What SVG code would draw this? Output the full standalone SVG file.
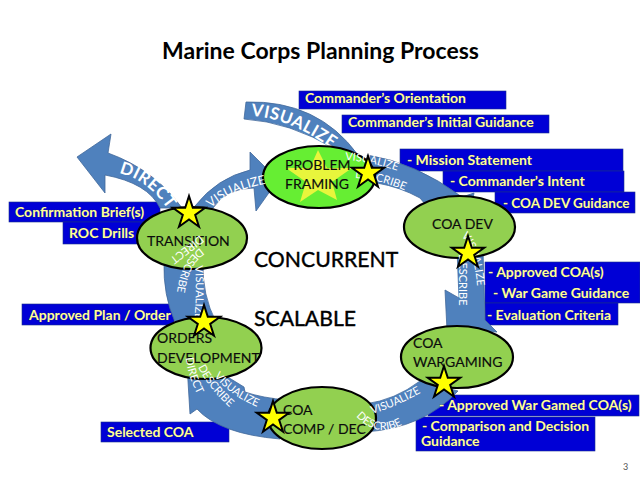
<svg xmlns="http://www.w3.org/2000/svg" width="640" height="480" viewBox="0 0 640 480">
<style>
text{font-family:"Lato","Liberation Sans",sans-serif}
.box{fill:#0000d6;stroke:#1a2f8a;stroke-width:.6}
.bl{fill:#ffff99;font-weight:700;font-size:14px;stroke:#333;stroke-width:.3;paint-order:stroke}
.arrow{fill:#4f81bd;stroke:#41689a;stroke-width:.8}
.node{fill:#92d050;stroke:#000;stroke-width:2.2}
.star{fill:#ffff00;stroke:#000;stroke-width:2}
.lab{fill:#0c0c0c;font-size:14px;stroke:#0c0c0c;stroke-width:.15}
.w{fill:#fff;font-size:11px}
.wb{fill:#fff;font-weight:700;font-size:17px;letter-spacing:.5px}
.big{fill:#000;font-size:21.200px;stroke:#000;stroke-width:.4}
</style>
<defs>
<polygon id="s" class="star" points="0,-17 3.800,-5.250 16.200,-5.250 6.200,2 10,13.750 0,6.500 -10,13.750 -6.200,2 -16.200,-5.250 -3.800,-5.250"/>
<path id="pVis" d="M251,116 Q295,118 347,160"/>
<path id="pDir" d="M119,173 Q152,180 176,222"/>
<path id="pV1" d="M211,208 Q230,190 270,183"/>
<path id="pV2" d="M345,160 Q380,162 420,180"/>
<path id="pD2" d="M355,178 Q390,180 432,204"/>
<path id="pV3" d="M372,414 Q396,407 426,390"/>
<path id="pD3" d="M356,416 Q378,440 405,423 L420,414"/>
<path id="pV4" d="M214,376 Q232,398 265,410"/>
<path id="pD4" d="M198,367 Q210,392 240,416"/>
<path id="pD5" d="M186,358 Q187,375 200,400"/>
<path id="pV5" d="M195,266 Q197,290 194,325"/>
<path id="pD6" d="M200,248 Q178,262 176,304"/>
<path id="pV6" d="M461,236 Q476,250 478,300"/>
<path id="pD7" d="M459,254 L459,320"/>
<path id="pD8" d="M200,235 L160,266"/>
</defs>
<text x="320.500" y="59" text-anchor="middle" font-size="23" font-weight="700" fill="#000">Marine Corps Planning Process</text>

<g id="boxes">
<rect class="box" x="299" y="91" width="207" height="18"/>
<rect class="box" x="342" y="115" width="207" height="18"/>
<rect class="box" x="400" y="149" width="223" height="22"/>
<rect class="box" x="443" y="171" width="181" height="21"/>
<rect class="box" x="495" y="192" width="140" height="21"/>
<rect class="box" x="485" y="262" width="155" height="41"/>
<rect class="box" x="485" y="303" width="133" height="22"/>
<rect class="box" x="428" y="395" width="211" height="21"/>
<rect class="box" x="416" y="417" width="179" height="34"/>
<rect class="box" x="9" y="202" width="151" height="20"/>
<rect class="box" x="63" y="222" width="80" height="22"/>
<rect class="box" x="22" y="304" width="152" height="21"/>
<rect class="box" x="101" y="422" width="128" height="20"/>
</g>

<g id="connectors">
<path class="arrow" d="M246,102 Q318,100 358,155 L335,149 Q290,122 244,119 Z"/>
<path class="arrow" d="M367,155 Q415,162 462,197 L474,193 L470,215 L430,210 L420,198 Q400,187 377,183 Z"/>
<path class="arrow" d="M77,157 L111,134 L108,153 Q155,170 182,208 L160,208 Q148,183 105,175 L105,193 Z"/>
<path class="arrow" d="M195,206 Q217,178 250,170 L250,152 L278,180 L256,211 L254,188 Q226,188 213,208 Z"/>
<path class="arrow" d="M164,262 L203,262 Q202,295 216,322 L175,322 Q163,295 164,262 Z"/>
<path class="arrow" d="M457,250 L459,298 L445,290 L447,330 L497,332 L485,320 L483,250 Z"/>
<path class="arrow" d="M420,381 L458,391 Q424,428 365,432 L365,404 Q395,400 420,381 Z"/>
<path class="arrow" d="M187,365 L190,414 L197,409 Q220,434 280,439 L288,400 Q262,398 245,392 L244,387 L226,376 Z"/>
</g>

<text class="wb"><textPath href="#pVis">VISUALIZE</textPath></text>

<g id="node-problem-framing">
<ellipse cx="319" cy="177" rx="56" ry="31" fill="#66ee33" stroke="#000" stroke-width="2.200"/>
<polygon fill="#e8f53c" points="318,150 327,168 352,168 332,182 337,200 318,190 300,202 306,182 286,168 310,168"/>
<text class="lab" x="285" y="170">PROBLEM</text>
<text class="lab" x="285" y="189">FRAMING</text>
</g>
<g id="node-transition">
<ellipse class="node" cx="192" cy="238" rx="55" ry="31"/>
<text class="lab" x="147" y="246">TRANSITION</text>
</g>
<g id="node-coa-dev">
<ellipse class="node" cx="459.500" cy="227" rx="55.500" ry="31"/>
<text class="lab" x="432" y="229">COA DEV</text>
</g>
<g id="node-wargaming">
<ellipse class="node" cx="457" cy="357" rx="56" ry="31"/>
<text class="lab" x="413" y="348">COA</text>
<text class="lab" x="413" y="367">WARGAMING</text>
</g>
<g id="node-comp-dec">
<ellipse class="node" cx="322" cy="418" rx="54" ry="31"/>
<text class="lab" x="283" y="415">COA</text>
<text class="lab" x="283" y="434">COMP / DEC</text>
</g>
<g id="node-orders">
<ellipse class="node" cx="206" cy="348" rx="55.500" ry="31"/>
<text class="lab" x="157" y="343">ORDERS</text>
<text class="lab" x="157" y="363">DEVELOPMENT</text>
</g>

<g id="arrow-labels">
<text class="wb"><textPath href="#pDir">DIRECT</textPath></text>
<text class="w" style="font-size:12.500px"><textPath href="#pV1">VISUALIZE</textPath></text>
<text class="w"><textPath href="#pV2">VISUALIZE</textPath></text>
<text class="w"><textPath href="#pD2">DESCRIBE</textPath></text>
<text class="w"><textPath href="#pV3">VISUALIZE</textPath></text>
<text class="w"><textPath href="#pD3">DESCRIBE</textPath></text>
<text class="w"><textPath href="#pV4">VISUALIZE</textPath></text>
<text class="w"><textPath href="#pD4">DESCRIBE</textPath></text>
<text class="w"><textPath href="#pD5">DIRECT</textPath></text>
<text class="w"><textPath href="#pV5">VISUALIZE</textPath></text>
<text class="w"><textPath href="#pD6">DESCRIBE</textPath></text>
<text class="w"><textPath href="#pD8">DIRECT</textPath></text>
<text class="w"><textPath href="#pV6">VISUALIZE</textPath></text>
<text class="w"><textPath href="#pD7">DESCRIBE</textPath></text>
</g>

<g id="stars">
<use href="#s" x="189" y="213"/>
<use href="#s" x="368" y="173"/>
<use href="#s" x="468" y="253"/>
<use href="#s" x="204" y="322"/>
<use href="#s" x="444" y="383"/>
<use href="#s" x="273" y="418"/>
</g>

<text class="big" x="254" y="267">CONCURRENT</text>
<text class="big" x="254" y="326">SCALABLE</text>

<g id="box-labels">
<text class="bl" x="305" y="103">Commander’s Orientation</text>
<text class="bl" x="348" y="127">Commander’s Initial Guidance</text>
<text class="bl" x="407" y="165">- Mission Statement</text>
<text class="bl" x="450" y="186">- Commander’s Intent</text>
<text class="bl" x="503" y="208" style="font-size:13.500px">- COA DEV Guidance</text>
<text class="bl" x="488" y="277">- Approved COA(s)</text>
<text class="bl" x="493" y="298">- War Game Guidance</text>
<text class="bl" x="487" y="320">- Evaluation Criteria</text>
<text class="bl" x="439" y="410">- Approved War Gamed COA(s)</text>
<text class="bl" x="422" y="431">- Comparison and Decision</text>
<text class="bl" x="421" y="446">Guidance</text>
<text class="bl" x="15" y="217">Confirmation Brief(s)</text>
<text class="bl" x="69" y="238">ROC Drills</text>
<text class="bl" x="29" y="320">Approved Plan / Order</text>
<text class="bl" x="107" y="437">Selected COA</text>
</g>
<text x="623" y="470" font-size="9" fill="#555">3</text>
</svg>
